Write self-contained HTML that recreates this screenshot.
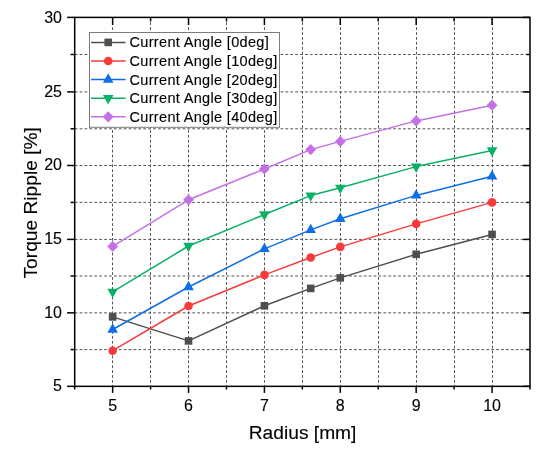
<!DOCTYPE html><html><head><meta charset="utf-8"><title>Torque Ripple vs Radius</title><style>html,body{margin:0;padding:0;background:#fff;width:550px;height:451px;overflow:hidden;}svg{display:block;}text{font-family:"Liberation Sans",Arial,sans-serif;fill:#000;stroke:#000;stroke-width:0.12px;}</style></head><body>
<svg width="550" height="451" viewBox="0 0 550 451">
<rect width="550" height="451" fill="#fff"/>
<g stroke="#555555" stroke-width="1.0" stroke-dasharray="2.8 2.1" fill="none"><line x1="112.50" y1="17.40" x2="112.50" y2="386.35"/><line x1="150.50" y1="17.40" x2="150.50" y2="386.35"/><line x1="188.50" y1="17.40" x2="188.50" y2="386.35"/><line x1="226.50" y1="17.40" x2="226.50" y2="386.35"/><line x1="264.50" y1="17.40" x2="264.50" y2="386.35"/><line x1="302.50" y1="17.40" x2="302.50" y2="386.35"/><line x1="340.50" y1="17.40" x2="340.50" y2="386.35"/><line x1="378.50" y1="17.40" x2="378.50" y2="386.35"/><line x1="416.50" y1="17.40" x2="416.50" y2="386.35"/><line x1="454.50" y1="17.40" x2="454.50" y2="386.35"/><line x1="492.50" y1="17.40" x2="492.50" y2="386.35"/><line x1="74.70" y1="349.60" x2="530.00" y2="349.60"/><line x1="74.70" y1="312.85" x2="530.00" y2="312.85"/><line x1="74.70" y1="276.00" x2="530.00" y2="276.00"/><line x1="74.70" y1="239.40" x2="530.00" y2="239.40"/><line x1="74.70" y1="202.40" x2="530.00" y2="202.40"/><line x1="74.70" y1="165.50" x2="530.00" y2="165.50"/><line x1="74.70" y1="128.80" x2="530.00" y2="128.80"/><line x1="74.70" y1="91.90" x2="530.00" y2="91.90"/><line x1="74.70" y1="54.50" x2="530.00" y2="54.50"/></g>
<rect x="89.5" y="32.5" width="190.0" height="94.8" fill="#fff" stroke="#7c7c7c" stroke-width="1"/>
<polyline points="112.64,316.90 188.53,340.90 264.41,305.80 310.70,288.40 340.29,277.90 416.17,254.30 492.06,234.40" fill="none" stroke="#4F4F4F" stroke-width="1.5" stroke-linejoin="round"/>
<polyline points="112.64,350.70 188.53,306.00 264.41,274.90 310.70,257.50 340.29,246.90 416.17,223.90 492.06,202.40" fill="none" stroke="#F83A3C" stroke-width="1.5" stroke-linejoin="round"/>
<polyline points="112.64,329.50 188.53,287.00 264.41,248.90 310.70,229.90 340.29,218.80 416.17,195.40 492.06,176.30" fill="none" stroke="#0E6EE8" stroke-width="1.5" stroke-linejoin="round"/>
<polyline points="112.64,291.80 188.53,246.00 264.41,214.50 310.70,195.60 340.29,187.80 416.17,166.60 492.06,150.50" fill="none" stroke="#0BB066" stroke-width="1.5" stroke-linejoin="round"/>
<polyline points="112.64,246.40 188.53,199.80 264.41,169.00 310.70,149.60 340.29,141.40 416.17,120.90 492.06,105.20" fill="none" stroke="#C470E6" stroke-width="1.5" stroke-linejoin="round"/>
<rect x="108.84" y="313.10" width="7.6" height="7.6" fill="#4F4F4F"/>
<rect x="184.72" y="337.10" width="7.6" height="7.6" fill="#4F4F4F"/>
<rect x="260.61" y="302.00" width="7.6" height="7.6" fill="#4F4F4F"/>
<rect x="306.90" y="284.60" width="7.6" height="7.6" fill="#4F4F4F"/>
<rect x="336.49" y="274.10" width="7.6" height="7.6" fill="#4F4F4F"/>
<rect x="412.37" y="250.50" width="7.6" height="7.6" fill="#4F4F4F"/>
<rect x="488.26" y="230.60" width="7.6" height="7.6" fill="#4F4F4F"/>
<circle cx="112.64" cy="350.70" r="4.3" fill="#F83A3C"/>
<circle cx="188.53" cy="306.00" r="4.3" fill="#F83A3C"/>
<circle cx="264.41" cy="274.90" r="4.3" fill="#F83A3C"/>
<circle cx="310.70" cy="257.50" r="4.3" fill="#F83A3C"/>
<circle cx="340.29" cy="246.90" r="4.3" fill="#F83A3C"/>
<circle cx="416.17" cy="223.90" r="4.3" fill="#F83A3C"/>
<circle cx="492.06" cy="202.40" r="4.3" fill="#F83A3C"/>
<polygon points="112.64,323.23 107.34,332.63 117.94,332.63" fill="#0E6EE8"/>
<polygon points="188.53,280.73 183.22,290.13 193.83,290.13" fill="#0E6EE8"/>
<polygon points="264.41,242.63 259.11,252.03 269.71,252.03" fill="#0E6EE8"/>
<polygon points="310.70,223.63 305.40,233.03 316.00,233.03" fill="#0E6EE8"/>
<polygon points="340.29,212.53 334.99,221.93 345.59,221.93" fill="#0E6EE8"/>
<polygon points="416.17,189.13 410.87,198.53 421.47,198.53" fill="#0E6EE8"/>
<polygon points="492.06,170.03 486.76,179.43 497.36,179.43" fill="#0E6EE8"/>
<polygon points="107.34,288.67 117.94,288.67 112.64,298.07" fill="#0BB066"/>
<polygon points="183.22,242.87 193.83,242.87 188.53,252.27" fill="#0BB066"/>
<polygon points="259.11,211.37 269.71,211.37 264.41,220.77" fill="#0BB066"/>
<polygon points="305.40,192.47 316.00,192.47 310.70,201.87" fill="#0BB066"/>
<polygon points="334.99,184.67 345.59,184.67 340.29,194.07" fill="#0BB066"/>
<polygon points="410.87,163.47 421.47,163.47 416.17,172.87" fill="#0BB066"/>
<polygon points="486.76,147.37 497.36,147.37 492.06,156.77" fill="#0BB066"/>
<polygon points="112.64,240.80 118.04,246.40 112.64,252.00 107.24,246.40" fill="#C470E6"/>
<polygon points="188.53,194.20 193.93,199.80 188.53,205.40 183.12,199.80" fill="#C470E6"/>
<polygon points="264.41,163.40 269.81,169.00 264.41,174.60 259.01,169.00" fill="#C470E6"/>
<polygon points="310.70,144.00 316.10,149.60 310.70,155.20 305.30,149.60" fill="#C470E6"/>
<polygon points="340.29,135.80 345.69,141.40 340.29,147.00 334.89,141.40" fill="#C470E6"/>
<polygon points="416.17,115.30 421.57,120.90 416.17,126.50 410.77,120.90" fill="#C470E6"/>
<polygon points="492.06,99.60 497.46,105.20 492.06,110.80 486.66,105.20" fill="#C470E6"/>
<line x1="91" y1="42.4" x2="125.6" y2="42.4" stroke="#4F4F4F" stroke-width="1.5"/>
<rect x="104.40" y="38.60" width="7.6" height="7.6" fill="#4F4F4F"/>
<text x="129.5" y="47.30" font-size="14.5" letter-spacing="0.33">Current Angle [0deg]</text>
<line x1="91" y1="61.0" x2="125.6" y2="61.0" stroke="#F83A3C" stroke-width="1.5"/>
<circle cx="108.20" cy="61.00" r="4.3" fill="#F83A3C"/>
<text x="129.5" y="65.90" font-size="14.5" letter-spacing="0.33">Current Angle [10deg]</text>
<line x1="91" y1="79.6" x2="125.6" y2="79.6" stroke="#0E6EE8" stroke-width="1.5"/>
<polygon points="108.20,73.33 102.90,82.73 113.50,82.73" fill="#0E6EE8"/>
<text x="129.5" y="84.50" font-size="14.5" letter-spacing="0.33">Current Angle [20deg]</text>
<line x1="91" y1="98.2" x2="125.6" y2="98.2" stroke="#0BB066" stroke-width="1.5"/>
<polygon points="102.90,95.07 113.50,95.07 108.20,104.47" fill="#0BB066"/>
<text x="129.5" y="103.10" font-size="14.5" letter-spacing="0.33">Current Angle [30deg]</text>
<line x1="91" y1="116.8" x2="125.6" y2="116.8" stroke="#C470E6" stroke-width="1.5"/>
<polygon points="108.20,111.20 113.60,116.80 108.20,122.40 102.80,116.80" fill="#C470E6"/>
<text x="129.5" y="121.70" font-size="14.5" letter-spacing="0.33">Current Angle [40deg]</text>
<g stroke="#000" stroke-width="1.5" fill="none" stroke-linecap="butt"><rect x="74.7" y="17.4" width="455.30" height="368.95" fill="none"/><line x1="67.1" y1="386.35" x2="74.7" y2="386.35"/><line x1="523.0" y1="386.35" x2="530.0" y2="386.35"/><line x1="67.1" y1="312.85" x2="74.7" y2="312.85"/><line x1="523.0" y1="312.85" x2="530.0" y2="312.85"/><line x1="67.1" y1="239.40" x2="74.7" y2="239.40"/><line x1="523.0" y1="239.40" x2="530.0" y2="239.40"/><line x1="67.1" y1="165.50" x2="74.7" y2="165.50"/><line x1="523.0" y1="165.50" x2="530.0" y2="165.50"/><line x1="67.1" y1="91.90" x2="74.7" y2="91.90"/><line x1="523.0" y1="91.90" x2="530.0" y2="91.90"/><line x1="67.1" y1="17.40" x2="74.7" y2="17.40"/><line x1="523.0" y1="17.40" x2="530.0" y2="17.40"/><line x1="70.6" y1="349.60" x2="74.7" y2="349.60"/><line x1="526.40" y1="349.60" x2="530.0" y2="349.60"/><line x1="70.6" y1="276.00" x2="74.7" y2="276.00"/><line x1="526.40" y1="276.00" x2="530.0" y2="276.00"/><line x1="70.6" y1="202.40" x2="74.7" y2="202.40"/><line x1="526.40" y1="202.40" x2="530.0" y2="202.40"/><line x1="70.6" y1="128.80" x2="74.7" y2="128.80"/><line x1="526.40" y1="128.80" x2="530.0" y2="128.80"/><line x1="70.6" y1="54.50" x2="74.7" y2="54.50"/><line x1="526.40" y1="54.50" x2="530.0" y2="54.50"/><line x1="112.64" y1="386.35" x2="112.64" y2="392.9"/><line x1="112.64" y1="17.4" x2="112.64" y2="25.00"/><line x1="188.53" y1="386.35" x2="188.53" y2="392.9"/><line x1="188.53" y1="17.4" x2="188.53" y2="25.00"/><line x1="264.41" y1="386.35" x2="264.41" y2="392.9"/><line x1="264.41" y1="17.4" x2="264.41" y2="25.00"/><line x1="340.29" y1="386.35" x2="340.29" y2="392.9"/><line x1="340.29" y1="17.4" x2="340.29" y2="25.00"/><line x1="416.17" y1="386.35" x2="416.17" y2="392.9"/><line x1="416.17" y1="17.4" x2="416.17" y2="25.00"/><line x1="492.06" y1="386.35" x2="492.06" y2="392.9"/><line x1="492.06" y1="17.4" x2="492.06" y2="25.00"/><line x1="74.70" y1="386.35" x2="74.70" y2="389.5"/><line x1="150.58" y1="386.35" x2="150.58" y2="389.5"/><line x1="150.58" y1="17.4" x2="150.58" y2="21.50"/><line x1="226.47" y1="386.35" x2="226.47" y2="389.5"/><line x1="226.47" y1="17.4" x2="226.47" y2="21.50"/><line x1="302.35" y1="386.35" x2="302.35" y2="389.5"/><line x1="302.35" y1="17.4" x2="302.35" y2="21.50"/><line x1="378.23" y1="386.35" x2="378.23" y2="389.5"/><line x1="378.23" y1="17.4" x2="378.23" y2="21.50"/><line x1="454.12" y1="386.35" x2="454.12" y2="389.5"/><line x1="454.12" y1="17.4" x2="454.12" y2="21.50"/><line x1="530.00" y1="386.35" x2="530.00" y2="389.5"/></g>
<text x="62" y="391.05" font-size="16" text-anchor="end">5</text>
<text x="62" y="317.85" font-size="16" text-anchor="end">10</text>
<text x="62" y="244.20" font-size="16" text-anchor="end">15</text>
<text x="62" y="170.45" font-size="16" text-anchor="end">20</text>
<text x="62" y="96.70" font-size="16" text-anchor="end">25</text>
<text x="62" y="22.95" font-size="16" text-anchor="end">30</text>
<text x="112.64" y="410.8" font-size="16" text-anchor="middle">5</text>
<text x="188.53" y="410.8" font-size="16" text-anchor="middle">6</text>
<text x="264.41" y="410.8" font-size="16" text-anchor="middle">7</text>
<text x="340.29" y="410.8" font-size="16" text-anchor="middle">8</text>
<text x="416.17" y="410.8" font-size="16" text-anchor="middle">9</text>
<text x="492.06" y="410.8" font-size="16" text-anchor="middle">10</text>
<text x="302.6" y="439.2" font-size="19.2" text-anchor="middle">Radius [mm]</text>
<text transform="translate(36.5,202.8) rotate(-90)" font-size="19.2" text-anchor="middle">Torque Ripple [%]</text>
</svg></body></html>
